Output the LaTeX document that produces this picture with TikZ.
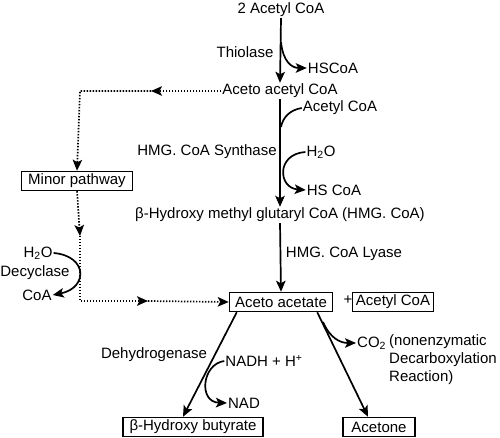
\documentclass[tikz,border=0pt]{standalone}
\usepackage{fontspec}
\setmainfont{Liberation Sans}
\usetikzlibrary{arrows.meta}
\begin{document}
\begin{tikzpicture}[x=1pt,y=-1pt,
  font=\fontsize{15}{18}\selectfont,
  txt/.style={inner sep=1pt},
  box/.style={draw, line width=1.5pt, inner xsep=3pt, inner ysep=2pt, minimum height=19pt},
  tip/.style={-{Stealth[length=11pt,width=9.5pt,inset=2.5pt]}},
  flow/.style={line width=1.7pt, tip},
  plain/.style={line width=1.7pt},
  dots/.style={line width=1.7pt, dash pattern=on 1.4pt off 1.6pt}
]
\useasboundingbox (0,0) rectangle (500,438);

% main chain
\node[txt] (a2) at (281,10) {2 Acetyl CoA};
\node[txt] (aac) at (280,91) {Aceto acetyl CoA};
\node[txt] (hmg) at (280,215) {β-Hydroxy methyl glutaryl CoA (HMG. CoA)};
\node[box, minimum width=103pt] (aa) at (281,302) {Aceto acetate};
\node[txt] (plus) at (348,300) {+};
\node[box, minimum width=81pt] (ac2) at (393,302) {Acetyl CoA};
\node[box, minimum width=140pt] (bhb) at (193,427) {β-Hydroxy butyrate};
\node[box, minimum width=72pt] (ace) at (379,427) {Acetone};
\node[box, minimum width=111pt] (mp) at (77,181) {Minor pathway};

% labels
\node[txt] (thio) at (245,52) {Thiolase};
\node[txt] (hscoa) at (333,68) {HSCoA};
\node[txt] (acin) at (340,108) {Acetyl CoA};
\node[txt] (syn) at (207,152) {HMG. CoA Synthase};
\node[txt] (h2o) at (321,152) {H\textsubscript{2}O};
\node[txt] (hsc) at (334,190) {HS CoA};
\node[txt] (lyase) at (344,254) {HMG. CoA Lyase};
\node[txt] (h2ol) at (38,253) {H\textsubscript{2}O};
\node[txt] (decy) at (35,273) {Decyclase};
\node[txt] (coal) at (37,295) {CoA};
\node[txt] (dehy) at (154,355) {Dehydrogenase};
\node[txt] (nadh) at (264,361) {NADH + H\textsuperscript{+}};
\node[txt] (nad) at (244,403) {NAD};
\node[txt, anchor=west] (co2) at (356,343) {CO\textsubscript{2}};
\node[txt, anchor=north west, align=left] (nonenz) at (388,333) {(nonenzymatic\\ Decarboxylation\\ Reaction)};

% main arrows
\draw[flow] (a2.south) -- (aac.north);
\draw[flow] (aac.south) -- (hmg.north);
\draw[flow] (hmg.south) -- (aa.north);
\draw[flow] ([xshift=8pt]aa.south west) -- ([xshift=-10pt]bhb.north);
\draw[flow] ([xshift=-16pt]aa.south east) -- ([xshift=-11pt]ace.north);

% side arrows
\draw[flow] (281,42) .. controls (283,62) and (292,68) .. (hscoa.west);
\draw[plain] (acin.west) .. controls (290,110) and (283,117) .. (281,127);
\draw[flow] (h2o.west) .. controls (276,154) and (278,188) .. (hsc.west);
\draw[flow] (h2ol.east) .. controls (88,256) and (88,288) .. (coal.east);
\draw[flow] (nadh.west) .. controls (202,364) and (198,402) .. (nad.west);
\draw[flow] (323,322) .. controls (330,338) and (340,343) .. (co2.west);

% minor pathway (dotted)
\coordinate (m1) at (151,91);
\coordinate (c1) at (80,91);
\coordinate (m2) at (80,236);
\coordinate (c2) at (80,301);
\coordinate (m3) at (148,301);
\draw[dots, tip] (aac.west) -- (m1);
\draw[dots, tip] (m1) -- (c1) -- (mp.north);
\draw[dots, tip] (mp.south) -- (m2);
\draw[dots, tip] (m2) -- (c2) -- (m3);
\draw[dots, tip] (m3) -- (aa.west);
\end{tikzpicture}
\end{document}
